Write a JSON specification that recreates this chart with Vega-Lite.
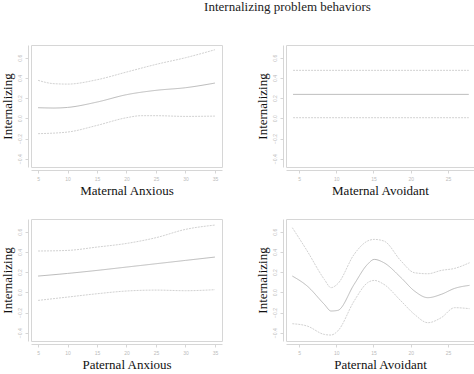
{
  "$schema": "https://vega.github.io/schema/vega-lite/v6.json",
  "background": "white",
  "padding": {"left": 0, "top": 0, "right": 2, "bottom": 0},
  "title": {"text": "Internalizing problem behaviors", "font": "Liberation Serif", "fontSize": 13, "fontWeight": "normal", "color": "#222", "anchor": "middle", "dx": 50, "offset": 31},
  "data": {"name": "d"},
  "datasets": {
    "d": [
      {"p": "MA", "x": 5, "y": 0.376, "b": "upper"},
      {"p": "MA", "x": 7.7, "y": 0.343, "b": "upper"},
      {"p": "MA", "x": 10, "y": 0.339, "b": "upper"},
      {"p": "MA", "x": 15, "y": 0.382, "b": "upper"},
      {"p": "MA", "x": 20, "y": 0.458, "b": "upper"},
      {"p": "MA", "x": 25, "y": 0.534, "b": "upper"},
      {"p": "MA", "x": 30, "y": 0.6, "b": "upper"},
      {"p": "MA", "x": 35, "y": 0.679, "b": "upper"},
      {"p": "MA", "x": 5, "y": 0.105, "b": "fit"},
      {"p": "MA", "x": 7.7, "y": 0.102, "b": "fit"},
      {"p": "MA", "x": 10, "y": 0.108, "b": "fit"},
      {"p": "MA", "x": 15, "y": 0.161, "b": "fit"},
      {"p": "MA", "x": 20, "y": 0.234, "b": "fit"},
      {"p": "MA", "x": 25, "y": 0.277, "b": "fit"},
      {"p": "MA", "x": 30, "y": 0.303, "b": "fit"},
      {"p": "MA", "x": 35, "y": 0.349, "b": "fit"},
      {"p": "MA", "x": 5, "y": -0.152, "b": "lower"},
      {"p": "MA", "x": 10, "y": -0.136, "b": "lower"},
      {"p": "MA", "x": 15, "y": -0.07, "b": "lower"},
      {"p": "MA", "x": 20, "y": 0.006, "b": "lower"},
      {"p": "MA", "x": 22.5, "y": 0.026, "b": "lower"},
      {"p": "MA", "x": 25, "y": 0.026, "b": "lower"},
      {"p": "MA", "x": 30, "y": 0.019, "b": "lower"},
      {"p": "MA", "x": 35, "y": 0.022, "b": "lower"},
      {"p": "MV", "x": 4.2, "y": 0.475, "b": "upper"},
      {"p": "MV", "x": 27.8, "y": 0.475, "b": "upper"},
      {"p": "MV", "x": 4.2, "y": 0.237, "b": "fit"},
      {"p": "MV", "x": 27.8, "y": 0.237, "b": "fit"},
      {"p": "MV", "x": 4.2, "y": 0.006, "b": "lower"},
      {"p": "MV", "x": 27.8, "y": 0.006, "b": "lower"},
      {"p": "PA", "x": 5, "y": 0.409, "b": "upper"},
      {"p": "PA", "x": 10, "y": 0.415, "b": "upper"},
      {"p": "PA", "x": 15, "y": 0.448, "b": "upper"},
      {"p": "PA", "x": 20, "y": 0.484, "b": "upper"},
      {"p": "PA", "x": 25, "y": 0.541, "b": "upper"},
      {"p": "PA", "x": 30, "y": 0.623, "b": "upper"},
      {"p": "PA", "x": 35, "y": 0.666, "b": "upper"},
      {"p": "PA", "x": 5, "y": 0.161, "b": "fit"},
      {"p": "PA", "x": 10, "y": 0.187, "b": "fit"},
      {"p": "PA", "x": 15, "y": 0.217, "b": "fit"},
      {"p": "PA", "x": 20, "y": 0.25, "b": "fit"},
      {"p": "PA", "x": 25, "y": 0.283, "b": "fit"},
      {"p": "PA", "x": 30, "y": 0.316, "b": "fit"},
      {"p": "PA", "x": 35, "y": 0.349, "b": "fit"},
      {"p": "PA", "x": 5, "y": -0.08, "b": "lower"},
      {"p": "PA", "x": 10, "y": -0.047, "b": "lower"},
      {"p": "PA", "x": 15, "y": -0.014, "b": "lower"},
      {"p": "PA", "x": 20, "y": 0.013, "b": "lower"},
      {"p": "PA", "x": 25, "y": 0.022, "b": "lower"},
      {"p": "PA", "x": 30, "y": 0.016, "b": "lower"},
      {"p": "PA", "x": 35, "y": 0.026, "b": "lower"},
      {"p": "PV", "x": 4.1, "y": 0.64, "b": "upper"},
      {"p": "PV", "x": 6.1, "y": 0.409, "b": "upper"},
      {"p": "PV", "x": 8.4, "y": 0.128, "b": "upper"},
      {"p": "PV", "x": 9.3, "y": 0.046, "b": "upper"},
      {"p": "PV", "x": 10.2, "y": 0.085, "b": "upper"},
      {"p": "PV", "x": 12.4, "y": 0.376, "b": "upper"},
      {"p": "PV", "x": 14.2, "y": 0.508, "b": "upper"},
      {"p": "PV", "x": 15.1, "y": 0.524, "b": "upper"},
      {"p": "PV", "x": 16.4, "y": 0.508, "b": "upper"},
      {"p": "PV", "x": 18.7, "y": 0.31, "b": "upper"},
      {"p": "PV", "x": 20.5, "y": 0.194, "b": "upper"},
      {"p": "PV", "x": 22.3, "y": 0.184, "b": "upper"},
      {"p": "PV", "x": 24.1, "y": 0.217, "b": "upper"},
      {"p": "PV", "x": 25.9, "y": 0.237, "b": "upper"},
      {"p": "PV", "x": 27.9, "y": 0.293, "b": "upper"},
      {"p": "PV", "x": 4.1, "y": 0.161, "b": "fit"},
      {"p": "PV", "x": 6.1, "y": 0.062, "b": "fit"},
      {"p": "PV", "x": 8.4, "y": -0.119, "b": "fit"},
      {"p": "PV", "x": 9.3, "y": -0.185, "b": "fit"},
      {"p": "PV", "x": 10.2, "y": -0.179, "b": "fit"},
      {"p": "PV", "x": 12.4, "y": 0.079, "b": "fit"},
      {"p": "PV", "x": 14.2, "y": 0.277, "b": "fit"},
      {"p": "PV", "x": 15.1, "y": 0.326, "b": "fit"},
      {"p": "PV", "x": 16.4, "y": 0.293, "b": "fit"},
      {"p": "PV", "x": 18.7, "y": 0.145, "b": "fit"},
      {"p": "PV", "x": 20.5, "y": 0.013, "b": "fit"},
      {"p": "PV", "x": 22.3, "y": -0.053, "b": "fit"},
      {"p": "PV", "x": 24.1, "y": -0.02, "b": "fit"},
      {"p": "PV", "x": 25.9, "y": 0.039, "b": "fit"},
      {"p": "PV", "x": 27.9, "y": 0.069, "b": "fit"},
      {"p": "PV", "x": 4.1, "y": -0.311, "b": "lower"},
      {"p": "PV", "x": 6.1, "y": -0.334, "b": "lower"},
      {"p": "PV", "x": 8.4, "y": -0.417, "b": "lower"},
      {"p": "PV", "x": 9.3, "y": -0.423, "b": "lower"},
      {"p": "PV", "x": 10.2, "y": -0.383, "b": "lower"},
      {"p": "PV", "x": 12.4, "y": -0.086, "b": "lower"},
      {"p": "PV", "x": 14.2, "y": 0.095, "b": "lower"},
      {"p": "PV", "x": 15.1, "y": 0.118, "b": "lower"},
      {"p": "PV", "x": 16.4, "y": 0.079, "b": "lower"},
      {"p": "PV", "x": 18.7, "y": -0.086, "b": "lower"},
      {"p": "PV", "x": 20.5, "y": -0.218, "b": "lower"},
      {"p": "PV", "x": 22.3, "y": -0.301, "b": "lower"},
      {"p": "PV", "x": 24.1, "y": -0.251, "b": "lower"},
      {"p": "PV", "x": 25.9, "y": -0.152, "b": "lower"},
      {"p": "PV", "x": 27.9, "y": -0.162, "b": "lower"}
    ]
  },
  "config": {
    "view": {"stroke": "#d6d6d6", "strokeWidth": 1},
    "axis": {
      "grid": false,
      "domainColor": "#d6d6d6",
      "tickColor": "#d6d6d6",
      "tickSize": 3,
      "labelColor": "#bbbbbb",
      "labelFontSize": 5,
      "labelFont": "Liberation Sans",
      "titleFont": "Liberation Serif",
      "titleFontSize": 13,
      "titleFontWeight": "normal",
      "titleColor": "#111",
      "offset": 3
    },
    "axisX": {"titlePadding": 3, "labelPadding": 3},
    "axisY": {"labelAngle": -90, "labelAlign": "center", "labelBaseline": "bottom", "labelPadding": 3, "titlePadding": 3}
  },
  "columns": 2,
  "spacing": {"row": 20, "column": 32},
  "concat": [
    {
      "width": 191, "height": 122,
      "transform": [{"filter": "datum.p === 'MA'"}],
      "mark": {"type": "line", "interpolate": "monotone", "strokeWidth": 0.9},
      "encoding": {
        "x": {"field": "x", "type": "quantitative", "title": "Maternal Anxious", "scale": {"domain": [3.8, 36.2], "nice": false, "zero": false}, "axis": {"values": [5, 10, 15, 20, 25, 30, 35]}},
        "y": {"field": "y", "type": "quantitative", "title": "Internalizing", "scale": {"domain": [-0.482, 0.726], "nice": false}, "axis": {"values": [-0.4, -0.2, 0, 0.2, 0.4, 0.6], "format": ".1f"}},
        "detail": {"field": "b"},
        "color": {"field": "b", "scale": {"domain": ["lower", "fit", "upper"], "range": ["#cccccc", "#b3b3b3", "#cccccc"]}, "legend": null},
        "strokeDash": {"field": "b", "scale": {"domain": ["lower", "fit", "upper"], "range": [[2, 1], [1, 0], [2, 1]]}, "legend": null}
      }
    },
    {
      "width": 188, "height": 122,
      "transform": [{"filter": "datum.p === 'MV'"}],
      "mark": {"type": "line", "interpolate": "monotone", "strokeWidth": 0.9},
      "encoding": {
        "x": {"field": "x", "type": "quantitative", "title": "Maternal Avoidant", "scale": {"domain": [3.25, 28.5], "nice": false, "zero": false}, "axis": {"values": [5, 10, 15, 20, 25]}},
        "y": {"field": "y", "type": "quantitative", "title": "Internalizing", "scale": {"domain": [-0.482, 0.726], "nice": false}, "axis": {"values": [-0.4, -0.2, 0, 0.2, 0.4, 0.6], "format": ".1f"}},
        "detail": {"field": "b"},
        "color": {"field": "b", "scale": {"domain": ["lower", "fit", "upper"], "range": ["#cccccc", "#b3b3b3", "#cccccc"]}, "legend": null},
        "strokeDash": {"field": "b", "scale": {"domain": ["lower", "fit", "upper"], "range": [[2, 1], [1, 0], [2, 1]]}, "legend": null}
      }
    },
    {
      "width": 191, "height": 122,
      "transform": [{"filter": "datum.p === 'PA'"}],
      "mark": {"type": "line", "interpolate": "monotone", "strokeWidth": 0.9},
      "encoding": {
        "x": {"field": "x", "type": "quantitative", "title": "Paternal Anxious", "scale": {"domain": [3.8, 36.2], "nice": false, "zero": false}, "axis": {"values": [5, 10, 15, 20, 25, 30, 35]}},
        "y": {"field": "y", "type": "quantitative", "title": "Internalizing", "scale": {"domain": [-0.482, 0.726], "nice": false}, "axis": {"values": [-0.4, -0.2, 0, 0.2, 0.4, 0.6], "format": ".1f"}},
        "detail": {"field": "b"},
        "color": {"field": "b", "scale": {"domain": ["lower", "fit", "upper"], "range": ["#cccccc", "#b3b3b3", "#cccccc"]}, "legend": null},
        "strokeDash": {"field": "b", "scale": {"domain": ["lower", "fit", "upper"], "range": [[2, 1], [1, 0], [2, 1]]}, "legend": null}
      }
    },
    {
      "width": 188, "height": 122,
      "transform": [{"filter": "datum.p === 'PV'"}],
      "mark": {"type": "line", "interpolate": "monotone", "strokeWidth": 0.9},
      "encoding": {
        "x": {"field": "x", "type": "quantitative", "title": "Paternal Avoidant", "scale": {"domain": [3.25, 28.5], "nice": false, "zero": false}, "axis": {"values": [5, 10, 15, 20, 25]}},
        "y": {"field": "y", "type": "quantitative", "title": "Internalizing", "scale": {"domain": [-0.482, 0.726], "nice": false}, "axis": {"values": [-0.4, -0.2, 0, 0.2, 0.4, 0.6], "format": ".1f"}},
        "detail": {"field": "b"},
        "color": {"field": "b", "scale": {"domain": ["lower", "fit", "upper"], "range": ["#cccccc", "#b3b3b3", "#cccccc"]}, "legend": null},
        "strokeDash": {"field": "b", "scale": {"domain": ["lower", "fit", "upper"], "range": [[2, 1], [1, 0], [2, 1]]}, "legend": null}
      }
    }
  ]
}
